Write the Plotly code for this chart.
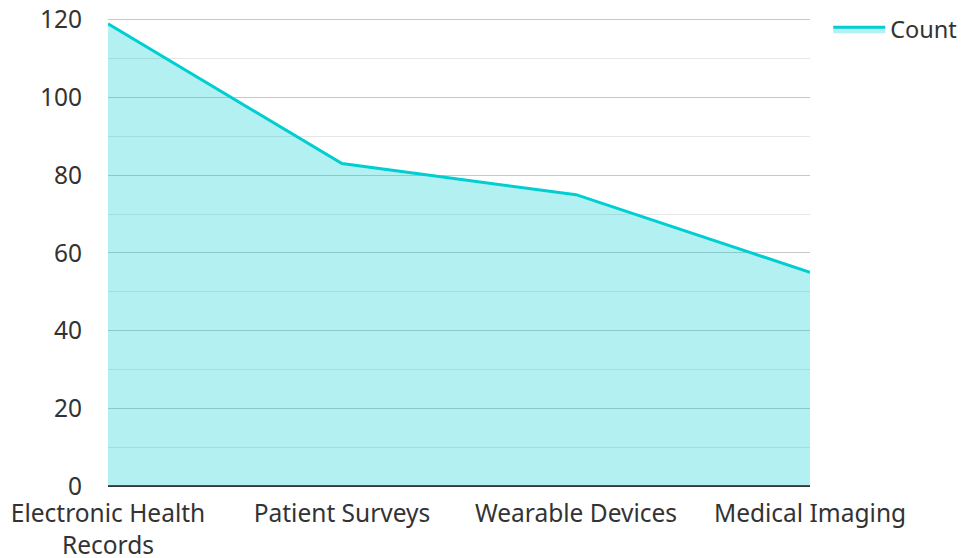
import plotly.graph_objects as go

categories = ["Electronic Health<br>Records", "Patient Surveys", "Wearable Devices", "Medical Imaging"]
counts = [119, 83, 75, 55]
series_name = "Count"

fig = go.Figure()
fig.add_trace(go.Scatter(
    x=categories, y=counts, name=series_name, mode="lines",
    line=dict(color="#00CED1", width=3),
    fill="tozeroy", fillcolor="rgba(0,206,209,0.3)",
))

fig.update_layout(
    width=968, height=558,
    margin=dict(l=100, r=166, t=8, b=80, autoexpand=False),
    paper_bgcolor="white", plot_bgcolor="white",
    font=dict(family="Noto Sans", size=24.5, color="#333"),
    showlegend=True,
    legend=dict(x=1.026, y=1.018, xanchor="left", yanchor="top", itemwidth=52,
                font=dict(size=23.5, color="#333")),
    xaxis=dict(range=[0, 3], showgrid=False, ticks="outside", ticklen=6,
               tickcolor="rgba(0,0,0,0)", zeroline=False, automargin=False,
               showline=False, tickfont=dict(size=24.5), ticklabeloverflow="allow"),
    yaxis=dict(range=[0, 121], tick0=0, dtick=20, showgrid=True, gridcolor="#c8c8c8",
               gridwidth=1, zeroline=True, zerolinecolor="#333", zerolinewidth=2,
               ticks="outside", ticklen=20, tickcolor="rgba(0,0,0,0)", automargin=False,
               tickfont=dict(size=24.5), layer="above traces", ticklabeloverflow="allow",
               minor=dict(dtick=10, showgrid=True, gridcolor="#e6e6e6", gridwidth=1)),
)

fig.write_html("out.html")
